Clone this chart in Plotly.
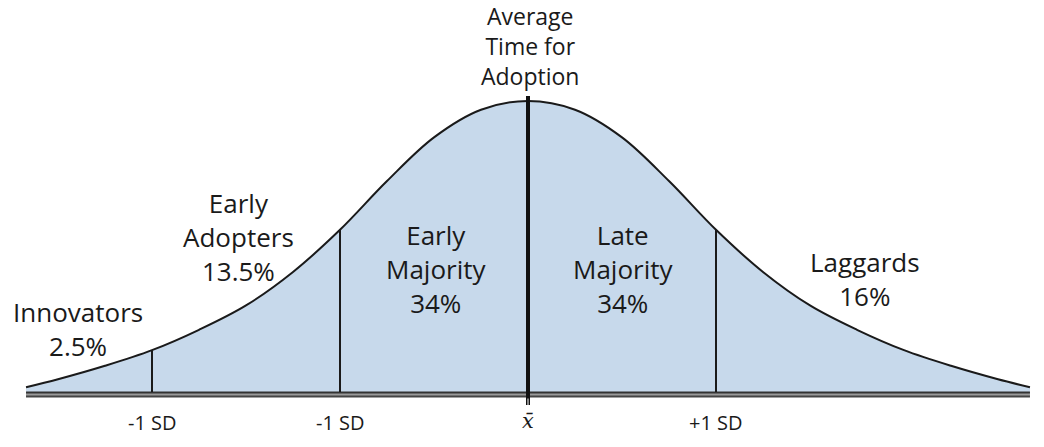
import numpy as np
import plotly.graph_objects as go

# ---- data (x in SD units, y = relative density) ----
curve_x = [-2.67, -2.5, -2.25, -2.0, -1.75, -1.5, -1.25, -1.0, -0.75, -0.5, -0.25, 0.0,
           0.25, 0.5, 0.75, 1.0, 1.25, 1.5, 1.75, 2.0, 2.25, 2.5, 2.67]
curve_y = [0.0065, 0.0175, 0.036, 0.0575, 0.0855, 0.119, 0.165, 0.223, 0.290, 0.350, 0.388, 0.400,
           0.388, 0.350, 0.290, 0.223, 0.165, 0.119, 0.0855, 0.0575, 0.036, 0.0175, 0.0065]

divider_sd = [-2, -1, 1]
mean_sd = 0
tick_sd = [-2, -1, 0, 1]
tick_labels = ["-1 SD", "-1 SD", "<i>x\u0304</i>", "+1 SD"]

segment_labels = ["Innovators<br>2.5%",
                  "Early<br>Adopters<br>13.5%",
                  "Early<br>Majority<br>34%",
                  "Late<br>Majority<br>34%",
                  "Laggards<br>16%"]
mean_label = "Average<br>Time for<br>Adoption"

# ---- layout geometry (pixels) ----
W, H = 1044, 447
X0, SDPX = 528.0, 188.0        # pixel of mean, pixels per SD
Y0, PEAKPX, PEAK = 392.0, 291.0, 0.40


def px2x(px):
    return (px - X0) / SDPX


def px2y(py):
    return (Y0 - py) / PEAKPX * PEAK


fill_col = "rgb(199,217,235)"
ink = "#1a1a1a"
font_fam = "Open Sans"

fig = go.Figure()
fig.add_trace(go.Scatter(x=curve_x, y=curve_y, mode="lines",
                         line=dict(color=ink, width=2, shape="spline", smoothing=1.0),
                         fill="tozeroy", fillcolor=fill_col, hoverinfo="skip",
                         showlegend=False))

shapes = []
# baseline double line
shapes.append(dict(type="line", xref="x", yref="y", x0=curve_x[0], x1=curve_x[-1],
                   y0=px2y(394.5), y1=px2y(394.5), line=dict(color="#9a9a9a", width=5)))
shapes.append(dict(type="line", xref="x", yref="y", x0=curve_x[0], x1=curve_x[-1],
                   y0=px2y(392.5), y1=px2y(392.5), line=dict(color="#333333", width=2)))
shapes.append(dict(type="line", xref="x", yref="y", x0=curve_x[0], x1=curve_x[-1],
                   y0=px2y(396.5), y1=px2y(396.5), line=dict(color="#444444", width=2)))
# SD dividers
for s in divider_sd:
    h = float(np.interp(s, curve_x, curve_y))
    shapes.append(dict(type="line", xref="x", yref="y", x0=s, x1=s, y0=0, y1=h,
                       line=dict(color=ink, width=2)))
# mean line (thick)
shapes.append(dict(type="line", xref="x", yref="y", x0=mean_sd, x1=mean_sd,
                   y0=px2y(405), y1=px2y(96), line=dict(color="#111111", width=4)))
shapes.append(dict(type="line", xref="x", yref="y", x0=mean_sd, x1=mean_sd,
                   y0=px2y(405), y1=px2y(398.5), line=dict(color="white", width=1)))

annotations = []


def add_label(txt, cx, cy, size):
    annotations.append(dict(x=px2x(cx), y=px2y(cy), xref="x", yref="y", text=txt,
                            showarrow=False, xanchor="center", yanchor="middle",
                            font=dict(family=font_fam, size=size, color=ink)))


seg_pos = [(78, 329), (238, 237), (436, 269), (623, 269), (865, 279)]
for txt, (cx, cy) in zip(segment_labels, seg_pos):
    add_label(txt, cx, cy, 26)
add_label(mean_label, 530, 46, 23)

for s, lab in zip(tick_sd, tick_labels):
    is_mean = s == mean_sd
    annotations.append(dict(x=s, y=px2y(421 if is_mean else 422), xref="x", yref="y", text=lab,
                            showarrow=False, xanchor="center", yanchor="middle",
                            font=dict(family="DejaVu Serif" if is_mean else font_fam,
                                      size=21 if is_mean else 20, color=ink)))

fig.update_layout(
    width=W, height=H, margin=dict(l=0, r=0, t=0, b=0),
    paper_bgcolor="white", plot_bgcolor="white",
    xaxis=dict(range=[px2x(0), px2x(W)], visible=False, fixedrange=True),
    yaxis=dict(range=[px2y(H), px2y(0)], visible=False, fixedrange=True),
    shapes=shapes, annotations=annotations, showlegend=False,
)

fig.write_html("out.html")
